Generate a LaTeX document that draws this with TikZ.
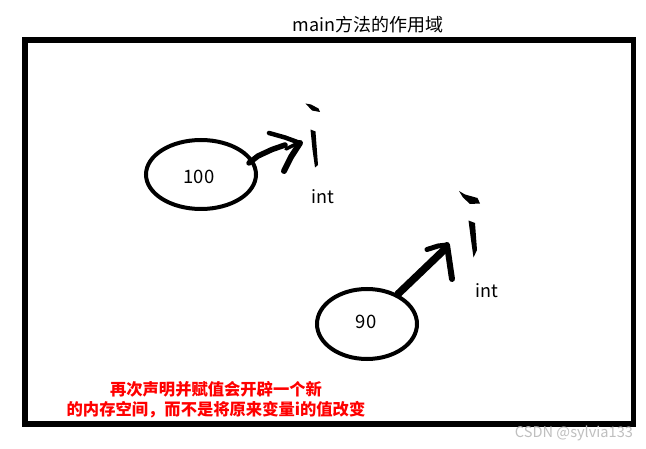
\documentclass[tikz,border=0pt]{standalone}
\usepackage{fontspec}
\setmainfont{Noto Sans CJK SC}
\usetikzlibrary{shapes.geometric}
\begin{document}
\begin{tikzpicture}[x=1pt,y=-1pt]
\tikzset{
  frame/.style={draw, line width=5.5pt, inner sep=0pt, minimum width=608.5pt, minimum height=384pt},
  ell/.style={draw, ellipse, line width=4pt, inner sep=0pt},
  val/.style={font=\fontsize{18.5}{20}\selectfont, inner sep=0pt},
  lbl/.style={font=\fontsize{18}{20}\selectfont, inner sep=0pt},
  glyph/.style={fill=black},
  shaft/.style={line width=6pt, line cap=round, line join=round},
  headline/.style={line width=5pt, line cap=round, line join=round},
  note/.style={font=\fontsize{16.3}{20}\selectfont\bfseries, align=center, inner sep=0pt},
  wmark/.style={font=\fontsize{14.6}{16}\selectfont, text=gray!50, inner sep=0pt}
}
\useasboundingbox (0,0) rectangle (646,449);
\fill[white] (0,0) rectangle (646,449);
% title and scope frame
\node[lbl] (title) at (368,25) {main方法的作用域};
\node[frame] (scope) at (329.25,232) {};
% values
\node[ell, minimum width=110pt, minimum height=69pt] (e1) at (201,174.5) {};
\node[val] (v1) at (199,177) {100};
\node[ell, minimum width=100pt, minimum height=70pt] (e2) at (367,324) {};
\node[val] (v2) at (366,322) {90};
% type labels
\node[lbl] (int1) at (323,197) {int};
\node[lbl] (int2) at (487,291) {int};
% hand-drawn variable i (first)
\coordinate (i1) at (313,148);
\fill[glyph] (305.5,103.5) -- (311,104.5) -- (318.5,108.5) -- (320,112) -- (312,110.5) -- cycle;
\fill[glyph] (310.5,129.5) -- (315.5,131.5) -- (318,165) -- (315,167.5) -- (312.5,150) -- cycle;
% hand-drawn variable i (second)
\coordinate (i2) at (472,240);
\fill[glyph] (459,191) -- (465,194.5) -- (477.5,198) -- (480,203.5) -- (470,204) -- (463,197.5) -- cycle;
\fill[glyph] (468.5,220.5) -- (475,223) -- (477,250) -- (473.5,257.5) -- (471,240) -- cycle;
% arrow 1 (e1 -> i1)
\coordinate (a1s) at (249,163);
\coordinate (a1t) at (300,143);
\draw[shaft, line width=5.5pt] (a1s) -- (258,156) -- (272,149.5) -- (285,145);
\draw[headline, line width=4.5pt] (269,133) -- (285,137.5) -- (a1t);
\draw[headline, line width=6pt] (a1t) -- (291,157) -- (284,171);
\draw[headline, line width=3.5pt] (286,149) -- (296,144);
% arrow 2 (e2 -> i2)
\coordinate (a2s) at (398,294);
\coordinate (a2t) at (447,245);
\draw[shaft, line width=7.5pt] (a2s) -- (421,272) -- (445,249);
\draw[headline] (427,249.5) -- (438,246) -- (a2t);
\draw[headline, line width=6pt] (a2t) -- (449.5,262) -- (452,279);
% red note
\node[note, text=red] (note) at (216,400) {再次声明并赋值会开辟一个新\\的内存空间，而不是将原来变量i的值改变};
% watermark
\node[wmark] (wm) at (574,433) {CSDN @sylvia133};
\end{tikzpicture}
\end{document}
